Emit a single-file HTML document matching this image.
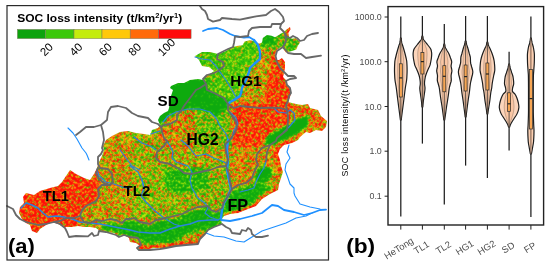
<!DOCTYPE html><html><head><meta charset="utf-8"><title>SOC loss intensity</title>
<style>html,body{margin:0;padding:0;background:#fff}svg{display:block}text{font-family:"Liberation Sans",Arial,sans-serif}</style></head><body>
<svg width="550" height="265" viewBox="0 0 550 265">
<defs>
<clipPath id="mapclip"><polygon points="290,27 290.5,29.5 288.3,33 289,36.5 292,38.7 295.5,38 297.7,40 300,42.4 297.7,46 296.3,49.6 292,51 286,52.5 282.5,48 280,47.5 276.6,50.4 275,55.5 276,60 279,60 282,58 285,62 285,68 284,73 283,77 286,80 287,85 290,89 291,93 290,97 288,102 296,104 302,105 308,104 310,108 318,110 321,116 327,121 326,127 322,131 316,130 310,133 306,132 300,137 298,140 292,143 284,145 280,149 278,154 280,160 281,166 283,172 281,178 279,184 278,190 270,194 262,199 256,206 248,209 238,213 230,214 224,216 221,220 222,224 214,227 208,230 205,234 200,239 198,244 186,245 176,246 166,248 154,248 144,250 138,249 140,246 136,243 130,242 129,238 124,235 118,236 114,233 106,232 100,231 96,228 90,227 84,227 78,226 72,227 64,227 58,224 52,222 46,225 40,229 37,233 32,231 30,225 26,223 22,219 19,213 20,207 24,203 23,197 26,193 34,195 40,191 50,188 58,186 62,182 66,176 70,170 76,174 84,178 90,180 94,174 97,168 99,162 102,156 104,150 103,146 106,140 112,136 120,132 128,131 136,133 144,134 150,135 152,130 158,128 160,125 158,120 160,116 164,113 168,111 169,108 170,102 171,96 173,90 170,88 171,86 178,83 184,83 190,80 198,79 203,80 205,76 210,74 214,71 209,67 202,66 199,60 195,56 202,52 210,52 218,54 226,51 230.8,47.5 236.6,46 242.5,45.3 244.6,41.6 249.7,40.2 254,41 259,43.8 262,42.4 262.8,38 267,35 271.5,35.8 275,37.3 278.8,35 281,33.6 284,32 286,30"/></clipPath>
<filter id="tex" x="0" y="0" width="550" height="265" filterUnits="userSpaceOnUse" color-interpolation-filters="sRGB">
<feGaussianBlur in="SourceGraphic" stdDeviation="1.7" result="src"/>
<feColorMatrix in="src" type="matrix" values="1 0 0 0 0  1 0 0 0 0  1 0 0 0 0  0 0 0 0 1" result="bias"/>
<feColorMatrix in="src" type="matrix" values="0 1 0 0 0  0 1 0 0 0  0 1 0 0 0  0 0 0 0 1" result="amp"/>
<feTurbulence type="fractalNoise" baseFrequency="0.46" numOctaves="2" seed="7" result="n0"/>
<feColorMatrix in="n0" type="matrix" values="2.5 0 0 0 -0.75  2.5 0 0 0 -0.75  2.5 0 0 0 -0.75  0 0 0 0 1" result="n1"/>
<feComposite in="amp" in2="n1" operator="arithmetic" k1="1" k2="-0.5" k3="0" k4="0.5" result="m"/>
<feComposite in="bias" in2="m" operator="arithmetic" k1="0" k2="1.5" k3="1" k4="-0.8" result="v"/>
<feComponentTransfer in="v"><feFuncR type="discrete" tableValues="0.055 0.055 0.055 0.055 0.055 0.055 0.055 0.055 0.055 0.235 0.235 0.235 0.235 0.235 0.235 0.235 0.235 0.235 0.235 0.769 0.769 0.769 0.769 0.769 1.000 1.000 1.000 1.000 1.000 1.000 1.000 1.000 1.000 1.000 1.000 1.000 1.000 1.000 1.000 1.000 1.000 1.000 1.000 1.000 1.000 1.000 1.000 1.000"/><feFuncG type="discrete" tableValues="0.667 0.667 0.667 0.667 0.667 0.667 0.667 0.667 0.667 0.784 0.784 0.784 0.784 0.784 0.784 0.784 0.784 0.784 0.784 0.925 0.925 0.925 0.925 0.925 0.784 0.784 0.416 0.416 0.416 0.416 0.416 0.416 0.416 0.416 0.416 0.039 0.039 0.039 0.039 0.039 0.039 0.039 0.039 0.039 0.039 0.039 0.039 0.039"/><feFuncB type="discrete" tableValues="0.055 0.055 0.055 0.055 0.055 0.055 0.055 0.055 0.055 0.039 0.039 0.039 0.039 0.039 0.039 0.039 0.039 0.039 0.039 0.047 0.047 0.047 0.047 0.047 0.039 0.039 0.039 0.039 0.039 0.039 0.039 0.039 0.039 0.039 0.039 0.039 0.039 0.039 0.039 0.039 0.039 0.039 0.039 0.039 0.039 0.039 0.039 0.039"/><feFuncA type="linear" slope="0" intercept="1"/></feComponentTransfer>
<feConvolveMatrix order="3" kernelMatrix="1 2 1 2 9 2 1 2 1" divisor="21" edgeMode="duplicate" preserveAlpha="true"/>
</filter>
</defs>
<rect width="550" height="265" fill="#fff"/>
<g clip-path="url(#mapclip)"><g filter="url(#tex)">
<rect x="0" y="0" width="550" height="265" fill="rgb(136,191,0)"/>
<polygon points="15,185 60,178 72,165 98,160 98,168 97,175 98,189 99,196 96,201 86,206 82,210 80,216 76,240 15,240" fill="rgb(179,191,0)"/>
<polygon points="100,128 130,128 132,215 95,225 80,216 86,206 96,201 99,196 98,189 102,185 113,182 112,174 100,168" fill="rgb(139,191,0)"/>
<polygon points="130,128 165,128 170,165 150,215 132,215" fill="rgb(126,191,0)"/>
<polygon points="160,122 230,104 232,168 165,168 158,135" fill="rgb(129,191,0)"/>
<polygon points="160,122 176,112 195,110 195,150 165,150 158,135" fill="rgb(143,191,0)"/>
<polygon points="195,108 230,104 232,145 195,150" fill="rgb(107,191,0)"/>
<polygon points="152,165 228,165 230,190 222,208 198,207 166,218 134,218 136,195" fill="rgb(119,191,0)"/>
<polygon points="166,170 205,168 212,188 178,194 164,186" fill="rgb(71,191,0)"/>
<polygon points="232,146 290,146 284,200 232,200" fill="rgb(145,191,0)"/>
<polygon points="232,104 290,100 292,146 232,146" fill="rgb(177,191,0)"/>
<polygon points="258,44 300,40 292,100 232,104 241,93 246,80 250,68 260,59" fill="rgb(136,191,0)"/>
<polygon points="274,52 290,50 294,100 264,102 267,80" fill="rgb(177,191,0)"/>
<polygon points="260,30 300,30 300,52 276,50 260,48" fill="rgb(102,191,0)"/>
<polygon points="262,34 275,34 275,45 262,45" fill="rgb(59,128,0)"/>
<polygon points="288,38 300,40 297,52 288,52" fill="rgb(85,191,0)"/>
<polygon points="286,26 292,26 292,35 286,35" fill="rgb(187,191,0)"/>
<polygon points="292,102 328,108 328,134 300,140 290,146" fill="rgb(156,191,0)"/>
<polygon points="296,140 284,143 277,149 275,155 277,162 279,168 286,170 286,150 298,146" fill="rgb(184,191,0)"/>
<polygon points="100,228 110,223 122,225 126,221 134,220 140,224 150,226 156,222 166,220 174,218 182,216 190,212 198,209 208,208 211,212 216,214 222,210 224,204 228,198 232,192 238,188 246,186 254,184 262,184 270,186 277,190 270,195 262,200 256,206 248,209 238,213 230,214 224,216 221,220 222,224 214,227 206,230 198,231 190,233 183,237 177,241 166,243 154,243 146,244 142,241 138,238 130,237 120,233 108,231" fill="rgb(51,191,0)"/>
<polygon points="258,168 268,166 273,172 270,180 260,184 254,180" fill="rgb(34,191,0)"/>
<polygon points="306,116 296,120 288,125 278,130 267,137 265,144 270,146 282,141 294,135 304,128 309,121" fill="rgb(0,191,0)"/>
<polygon points="279,190 270,195 262,200 256,207 248,210 238,214 230,215 224,217 223,213.5 229.5,211.5 237.5,210.5 247,206.5 254,203.5 260,196.5 268,191.5 277,187" fill="rgb(195,191,0)"/>
<polygon points="200,239 198,244 186,245 176,246 166,248 154,248 144,250 138,249 140,246 136,243 130,242 129,238 133,238 139,242 144,246.5 154,245 166,245 176,243.5 186,242 196,241 198,237" fill="rgb(187,191,0)"/>
<polygon points="183,237 190,233 198,231 206,230 200,239 196,241 186,242 178,242" fill="rgb(136,191,0)"/>
<polygon points="171,86 178,83 184,83 190,80 198,79 203,80 206,84 207,90 214,93 224,98 228,104 224,110 216,116 210,112 200,109 188,109 176,112 168,116 163,122 158,126 150,130 150,110 160,90" fill="rgb(0,191,0)"/>
<polygon points="196,90 207,90 214,93 224,98 228,104 224,110 216,116 210,112 200,109 188,109 184,106 190,98" fill="rgb(34,178,0)"/>
<polygon points="190,48 236,44 240,60 224,68 214,73 200,66" fill="rgb(102,128,0)"/>
<polygon points="214,71 224,66 223,62 217,59 218,54 226,51 236,46 250,40 258,45 260,59 250,68 246,80 241,93 234,100 228,104 224,98 214,93 207,90 206,84 203,79 207,75" fill="rgb(102,128,0)"/>
</g></g>
<g fill="none" stroke-linejoin="round" stroke-linecap="round">
<polyline points="21,208 26,203 32,205 38,208 43,213 48,217 56,216 64,217 72,219 80,222 90,223 100,224 110,226 120,228 130,230 138,232 150,233 160,233 170,229 180,226 190,224 198,221 210,220 218,220 221,218" stroke="#2b84dc" stroke-width="1.5"/>
<polyline points="130,166 138,172 142,180 144,188 141,196 146,202 154,210 164,218 174,224 180,226" stroke="#2b84dc" stroke-width="1.2"/>
<polyline points="193,190 198,198 206,204 208,208 205,213 210,217 218,220" stroke="#2b84dc" stroke-width="1.2"/>
<polyline points="166,140 170,146 173,152 172,158 176,162 188,166 192,172 190,180 192,188 193,190" stroke="#2b84dc" stroke-width="1.2"/>
<polyline points="181,140 188,146 196,156 206,154 214,158 224,162 228,164" stroke="#2b84dc" stroke-width="1.2"/>
<polyline points="134,137 142,143 150,146 156,150" stroke="#2b84dc" stroke-width="1.2"/>
<polyline points="163,122 168,116 176,112 188,109 200,109 210,112 216,118 220,126 226,134 229,141" stroke="#2b84dc" stroke-width="1.2"/>
<polyline points="195,57 202,59 210,60 216,66 220,72 226,80 232,90 236,97" stroke="#2b84dc" stroke-width="1.2"/>
<polyline points="274,108 278,112 286,113 290,110 294,113 295,120 290,126 284,132" stroke="#2b84dc" stroke-width="1.2"/>
<polyline points="97,169 99,176 106,182 114,184 122,187 130,189" stroke="#2b84dc" stroke-width="1.2"/>
<polyline points="120,150 126,158 132,166 140,170" stroke="#2b84dc" stroke-width="1.2"/>
<polyline points="230,112 236,118 238,124 234,130 232,138 229,141" stroke="#2b84dc" stroke-width="1.2"/>
<polyline points="266,161 264,168 260,174 256,182 254,188 248,190 240,192" stroke="#2b84dc" stroke-width="1.2"/>
<polyline points="151,134 160,131" stroke="#2b84dc" stroke-width="1.2"/>
<polyline points="142,180 144,188" stroke="#2b84dc" stroke-width="1.2"/>
<polyline points="289,145 287,152 290,158 286,164 285,170 288,178 290,184 294,188 294,193 295,196 300,204 310,207 320,209" stroke="#1e90ff" stroke-width="1.1"/>
<polyline points="206,233 214,236 224,237 230,239 236,241 244,242 252,237 262,231 274,227 286,223 296,218 306,216 312,213" stroke="#1e90ff" stroke-width="1.1"/>
<polyline points="68,128 73,133 77,139 82,148 86,153 87,155 89,160" stroke="#1e90ff" stroke-width="1.1"/>
<polyline points="203,31 208,29 217,28 223,30 230,34 235,36 244,37.6 249,37 254,40" stroke="#1e90ff" stroke-width="1.8"/>
<polyline points="254,40 258,45 260,52 260,59 254,64 250,68 249,72 246,80 242,88 241,93 240,96 234,100 230,102 228,105" stroke="#1e90ff" stroke-width="2.3"/>
<polyline points="228,140 227,150 228,160 227,170 229,180 231,189 228,196 224,203 222,210 221,218" stroke="#1e90ff" stroke-width="2.4"/>
<polyline points="221,220 230,221 240,219 252,216 262,213 272,205 278,206 284,210 294,212 304,215 312,213 320,210 326,209.6" stroke="#1e90ff" stroke-width="1.8"/>
<polyline points="200,6 202,9 205,11 207,15 208,19 213,21.6 220,20 222,18 232,19 240,19.6 248,18 256,16.4 266,15 271,11 275,9 279,12 283,17 284,21 281,24 280,28 284,32 287,37 290,38 293,36 297,38 300,41 304,40 307,36 312,34 318,33" stroke="#686868" stroke-width="1.8"/>
<polyline points="281,24 272,24 271,27 260,27 252,28 249,31 248,36 240,37 235,36.4 234,43 233,47 228,49 222,52 218,54 217,59 223,62 224,66 218,71 214,73 207,75 203,79 206,84 200,88 196,90 190,98 184,106 181,111 177,115 177,120 170,124 164,125 161,127 162,132 164,138 167,141 164,146 157,152 156,158 160,162 170,164 178,168 184,173 192,174 200,172 210,170 218,167 226,166" stroke="#686868" stroke-width="1.8"/>
<polyline points="226,166 228,160 226,152 225,144 229,141 234,134 237,128 236,122 232,116 228,110 228,104" stroke="#686868" stroke-width="1.8"/>
<polyline points="206,84 207,90 214,93 224,98 228,104 234,108 240,106 250,107 260,108 270,107.6 280,108 287,110" stroke="#686868" stroke-width="1.8"/>
<polyline points="226,166 229,174 230,182 232,189 228,196 224,202 222,208 216,212 211,210 208,206 198,207 190,210 182,214 174,216 166,218 156,220 150,224 140,222 134,218 130,219 126,219 122,223 116,220 110,219 102,221 96,220 90,223 84,222 80,216" stroke="#686868" stroke-width="1.8"/>
<polyline points="101,125 103,132 104,140 102,148 103,150 101,154 98,157 98,164 100,168 108,169 112,174 113,182 110,185 102,185 98,189 99,196 96,201 86,206 82,210 80,216 74,218 66,218 60,221 54,222" stroke="#686868" stroke-width="1.8"/>
<polyline points="98,168 96,173 99,179 104,183 110,185" stroke="#686868" stroke-width="1.8"/>
<polyline points="161,127 158,124 152,122 148,118 138,116 132,113 126,108 118,106 111,107 108,112 107,120 101,125 94,127 86,127 80,132 76,135" stroke="#686868" stroke-width="1.8"/>
<polyline points="7,206 13,209 16,215 20,219 26,222 30,223 38,225 46,224 54,222 60,224 65,228 67,232 69,237 76,236 88,236.4 92,233 94,236 98,235 99,231 106,232 116,235 119,237 124,235 130,237 138,238 140,242 141,245 137,248 139,250 150,250 160,249 166,248 176,246 186,245 198,244 200,239 205,234 208,230 214,227 222,224 226,227 230,229 232,233 240,234 242,230 246,231 248,228 251,230 252,234 256,237 262,237 268,235.6" stroke="#686868" stroke-width="1.8"/>
<polyline points="283,47 277,51 275.6,56 277,62 280,68 284,72 288,76 294,76 296,78 290,79 286,81 287,85 290,88 291,93 289,96 288,101 286,105 287,110 288,116 288,122 287,130 282,134 277,138 276,141 270,145 262,148 257,154 256,160 258,165 254,172 252,178 246,183 238,185 232,189" stroke="#686868" stroke-width="1.8"/>
<polyline points="283,47 288,53 294,54 301,54 306,58 312,57 321,55.6" stroke="#686868" stroke-width="1.8"/>
<polyline points="285,34 286,41 283,47" stroke="#686868" stroke-width="1.8"/>
<polyline points="270,145 267,152 266,161" stroke="#686868" stroke-width="1.8"/>
</g>
<rect x="7" y="5.6" width="321.5" height="254.4" fill="none" stroke="#2a2a2a" stroke-width="1.2"/>
<text x="17.2" y="22.4" font-size="11.3" font-weight="bold" fill="#000" textLength="165" lengthAdjust="spacingAndGlyphs">SOC loss intensity (t/km<tspan font-size="7" dy="-4">2</tspan><tspan dy="4">/yr</tspan><tspan font-size="7" dy="-4">1</tspan><tspan dy="4">)</tspan></text>
<rect x="17.4" y="29.4" width="28.0" height="9.2" fill="#0da30d" stroke="#7a7a5a" stroke-width="0.5"/>
<rect x="45.4" y="29.4" width="28.6" height="9.2" fill="#3cc80a" stroke="#7a7a5a" stroke-width="0.5"/>
<rect x="74" y="29.4" width="28.0" height="9.2" fill="#c4ec0c" stroke="#7a7a5a" stroke-width="0.5"/>
<rect x="102" y="29.4" width="28.2" height="9.2" fill="#ffc80a" stroke="#7a7a5a" stroke-width="0.5"/>
<rect x="130.2" y="29.4" width="28.3" height="9.2" fill="#ff6a0a" stroke="#7a7a5a" stroke-width="0.5"/>
<rect x="158.5" y="29.4" width="32.6" height="9.2" fill="#ff0a0a" stroke="#7a7a5a" stroke-width="0.5"/>
<text transform="translate(41.9,53.9) rotate(-45)" font-size="11.5" fill="#000" dy="4.1">20</text>
<text transform="translate(71.3,53.9) rotate(-45)" font-size="11.5" fill="#000" dy="4.1">40</text>
<text transform="translate(100.7,53.9) rotate(-45)" font-size="11.5" fill="#000" dy="4.1">60</text>
<text transform="translate(130.1,53.9) rotate(-45)" font-size="11.5" fill="#000" dy="4.1">80</text>
<text transform="translate(159.5,53.9) rotate(-45)" font-size="11.5" fill="#000" dy="4.1">100</text>
<text x="230.2" y="86.2" font-size="15.2" font-weight="bold" fill="#000">HG1</text>
<text x="157.5" y="106" font-size="15.2" font-weight="bold" fill="#000">SD</text>
<text x="186.6" y="145.2" font-size="15.6" font-weight="bold" fill="#000">HG2</text>
<text x="42.8" y="201" font-size="14.8" font-weight="bold" fill="#000">TL1</text>
<text x="123.6" y="196" font-size="15" font-weight="bold" fill="#000">TL2</text>
<text x="227.4" y="210.5" font-size="16.2" font-weight="bold" fill="#000">FP</text>
<text x="8" y="253" font-size="21" font-weight="bold" fill="#000" textLength="26.8" lengthAdjust="spacingAndGlyphs">(a)</text>
<text x="346.2" y="253" font-size="21" font-weight="bold" fill="#000" textLength="29" lengthAdjust="spacingAndGlyphs">(b)</text>
<g>
<line x1="400.8" y1="16.4" x2="400.8" y2="216.4" stroke="#1e1e1e" stroke-width="1.25"/>
<path d="M400.40,38.0 L400.37,39.0 L400.28,40.0 L400.15,41.0 L400.00,42.0 L399.78,43.0 L399.48,44.0 L399.13,45.0 L398.80,46.0 L398.50,47.0 L398.19,48.0 L397.89,49.0 L397.60,50.0 L397.32,51.0 L397.03,52.0 L396.76,53.0 L396.49,54.0 L396.24,55.0 L396.00,56.0 L395.76,57.0 L395.51,58.0 L395.28,59.0 L395.07,60.0 L394.90,61.0 L394.80,62.0 L394.74,63.0 L394.68,64.0 L394.63,65.0 L394.58,66.0 L394.55,67.0 L394.52,68.0 L394.51,69.0 L394.50,70.0 L394.51,71.0 L394.52,72.0 L394.55,73.0 L394.59,74.0 L394.64,75.0 L394.69,76.0 L394.74,77.0 L394.80,78.0 L394.88,79.0 L394.99,80.0 L395.12,81.0 L395.28,82.0 L395.45,83.0 L395.63,84.0 L395.81,85.0 L395.99,86.0 L396.15,87.0 L396.30,88.0 L396.43,89.0 L396.57,90.0 L396.69,91.0 L396.82,92.0 L396.94,93.0 L397.06,94.0 L397.18,95.0 L397.31,96.0 L397.43,97.0 L397.55,98.0 L397.67,99.0 L397.80,100.0 L397.93,101.0 L398.06,102.0 L398.19,103.0 L398.32,104.0 L398.45,105.0 L398.58,106.0 L398.71,107.0 L398.84,108.0 L398.98,109.0 L399.11,110.0 L399.24,111.0 L399.37,112.0 L399.50,113.0 L399.63,114.0 L399.76,115.0 L399.89,116.0 L400.02,117.0 L400.14,118.0 L400.27,119.0 L400.40,120.0 L401.20,120.0 L401.33,119.0 L401.46,118.0 L401.58,117.0 L401.71,116.0 L401.84,115.0 L401.97,114.0 L402.10,113.0 L402.23,112.0 L402.36,111.0 L402.49,110.0 L402.62,109.0 L402.76,108.0 L402.89,107.0 L403.02,106.0 L403.15,105.0 L403.28,104.0 L403.41,103.0 L403.54,102.0 L403.67,101.0 L403.80,100.0 L403.93,99.0 L404.05,98.0 L404.17,97.0 L404.29,96.0 L404.42,95.0 L404.54,94.0 L404.66,93.0 L404.78,92.0 L404.91,91.0 L405.03,90.0 L405.17,89.0 L405.30,88.0 L405.45,87.0 L405.61,86.0 L405.79,85.0 L405.97,84.0 L406.15,83.0 L406.32,82.0 L406.48,81.0 L406.61,80.0 L406.72,79.0 L406.80,78.0 L406.86,77.0 L406.91,76.0 L406.96,75.0 L407.01,74.0 L407.05,73.0 L407.08,72.0 L407.09,71.0 L407.10,70.0 L407.09,69.0 L407.08,68.0 L407.05,67.0 L407.02,66.0 L406.97,65.0 L406.92,64.0 L406.86,63.0 L406.80,62.0 L406.70,61.0 L406.53,60.0 L406.32,59.0 L406.09,58.0 L405.84,57.0 L405.60,56.0 L405.36,55.0 L405.11,54.0 L404.84,53.0 L404.57,52.0 L404.28,51.0 L404.00,50.0 L403.71,49.0 L403.41,48.0 L403.10,47.0 L402.80,46.0 L402.47,45.0 L402.12,44.0 L401.82,43.0 L401.60,42.0 L401.45,41.0 L401.32,40.0 L401.23,39.0 L401.20,38.0Z" fill="#fcd5bb" stroke="#1e1e1e" stroke-width="1.2" stroke-linejoin="round"/>
<path d="M400.60,38.0 L400.58,39.0 L400.54,40.0 L400.47,41.0 L400.40,42.0 L400.29,43.0 L400.14,44.0 L399.96,45.0 L399.80,46.0 L399.65,47.0 L399.50,48.0 L399.35,49.0 L399.20,50.0 L399.06,51.0 L398.92,52.0 L398.78,53.0 L398.65,54.0 L398.52,55.0 L398.40,56.0 L398.28,57.0 L398.16,58.0 L398.04,59.0 L397.93,60.0 L397.85,61.0 L397.80,62.0 L397.77,63.0 L397.74,64.0 L397.71,65.0 L397.69,66.0 L397.67,67.0 L397.66,68.0 L397.65,69.0 L397.65,70.0 L397.65,71.0 L397.66,72.0 L397.68,73.0 L397.70,74.0 L397.72,75.0 L397.74,76.0 L397.77,77.0 L397.80,78.0 L397.84,79.0 L397.89,80.0 L397.96,81.0 L398.04,82.0 L398.13,83.0 L398.22,84.0 L398.31,85.0 L398.39,86.0 L398.48,87.0 L398.55,88.0 L398.62,89.0 L398.68,90.0 L398.75,91.0 L398.81,92.0 L398.87,93.0 L398.93,94.0 L398.99,95.0 L399.05,96.0 L399.11,97.0 L399.17,98.0 L399.24,99.0 L399.30,100.0 L399.36,101.0 L399.43,102.0 L399.49,103.0 L399.56,104.0 L399.62,105.0 L399.69,106.0 L399.76,107.0 L399.82,108.0 L399.89,109.0 L399.95,110.0 L400.02,111.0 L400.09,112.0 L400.15,113.0 L400.21,114.0 L400.28,115.0 L400.34,116.0 L400.41,117.0 L400.47,118.0 L400.54,119.0 L400.60,120.0 L401.00,120.0 L401.06,119.0 L401.13,118.0 L401.19,117.0 L401.26,116.0 L401.32,115.0 L401.39,114.0 L401.45,113.0 L401.51,112.0 L401.58,111.0 L401.65,110.0 L401.71,109.0 L401.78,108.0 L401.84,107.0 L401.91,106.0 L401.98,105.0 L402.04,104.0 L402.11,103.0 L402.17,102.0 L402.24,101.0 L402.30,100.0 L402.36,99.0 L402.43,98.0 L402.49,97.0 L402.55,96.0 L402.61,95.0 L402.67,94.0 L402.73,93.0 L402.79,92.0 L402.85,91.0 L402.92,90.0 L402.98,89.0 L403.05,88.0 L403.12,87.0 L403.21,86.0 L403.29,85.0 L403.38,84.0 L403.47,83.0 L403.56,82.0 L403.64,81.0 L403.71,80.0 L403.76,79.0 L403.80,78.0 L403.83,77.0 L403.86,76.0 L403.88,75.0 L403.90,74.0 L403.92,73.0 L403.94,72.0 L403.95,71.0 L403.95,70.0 L403.95,69.0 L403.94,68.0 L403.93,67.0 L403.91,66.0 L403.89,65.0 L403.86,64.0 L403.83,63.0 L403.80,62.0 L403.75,61.0 L403.67,60.0 L403.56,59.0 L403.44,58.0 L403.32,57.0 L403.20,56.0 L403.08,55.0 L402.95,54.0 L402.82,53.0 L402.68,52.0 L402.54,51.0 L402.40,50.0 L402.25,49.0 L402.10,48.0 L401.95,47.0 L401.80,46.0 L401.64,45.0 L401.46,44.0 L401.31,43.0 L401.20,42.0 L401.13,41.0 L401.06,40.0 L401.02,39.0 L401.00,38.0Z" fill="#fac6a4" stroke="#5a4a40" stroke-width="0.4" stroke-opacity="0.8" stroke-linejoin="round"/>
<line x1="400.8" y1="38.0" x2="400.8" y2="120.0" stroke="#222" stroke-width="0.7"/>
<rect x="399.3" y="63.8" width="3" height="33.2" fill="#f7a654" stroke="#2a2a2a" stroke-width="0.7"/>
<line x1="399.3" y1="77.9" x2="402.3" y2="77.9" stroke="#222" stroke-width="1.2"/>
<line x1="422.4" y1="16" x2="422.4" y2="143.6" stroke="#1e1e1e" stroke-width="1.25"/>
<path d="M422.00,36.0 L421.93,37.0 L421.75,38.0 L421.50,39.0 L421.00,40.0 L420.22,41.0 L419.40,42.0 L418.61,43.0 L417.78,44.0 L417.00,45.0 L416.23,46.0 L415.43,47.0 L414.68,48.0 L414.08,49.0 L413.70,50.0 L413.47,51.0 L413.28,52.0 L413.15,53.0 L413.10,54.0 L413.13,55.0 L413.20,56.0 L413.29,57.0 L413.40,58.0 L413.53,59.0 L413.71,60.0 L413.90,61.0 L414.10,62.0 L414.29,63.0 L414.50,64.0 L414.78,65.0 L415.16,66.0 L415.60,67.0 L416.08,68.0 L416.56,69.0 L417.00,70.0 L417.42,71.0 L417.84,72.0 L418.24,73.0 L418.60,74.0 L418.94,75.0 L419.26,76.0 L419.50,77.0 L419.68,78.0 L419.85,79.0 L420.01,80.0 L420.14,81.0 L420.24,82.0 L420.29,83.0 L420.29,84.0 L420.18,85.0 L420.02,86.0 L419.87,87.0 L419.80,88.0 L419.83,89.0 L419.91,90.0 L420.02,91.0 L420.16,92.0 L420.31,93.0 L420.46,94.0 L420.60,95.0 L420.73,96.0 L420.88,97.0 L421.02,98.0 L421.17,99.0 L421.30,100.0 L421.42,101.0 L421.53,102.0 L421.64,103.0 L421.74,104.0 L421.83,105.0 L421.92,106.0 L422.00,107.0 L422.80,107.0 L422.88,106.0 L422.97,105.0 L423.06,104.0 L423.16,103.0 L423.27,102.0 L423.38,101.0 L423.50,100.0 L423.63,99.0 L423.78,98.0 L423.92,97.0 L424.07,96.0 L424.20,95.0 L424.34,94.0 L424.49,93.0 L424.64,92.0 L424.78,91.0 L424.89,90.0 L424.97,89.0 L425.00,88.0 L424.93,87.0 L424.78,86.0 L424.62,85.0 L424.51,84.0 L424.51,83.0 L424.56,82.0 L424.66,81.0 L424.79,80.0 L424.95,79.0 L425.12,78.0 L425.30,77.0 L425.54,76.0 L425.86,75.0 L426.20,74.0 L426.56,73.0 L426.96,72.0 L427.38,71.0 L427.80,70.0 L428.24,69.0 L428.72,68.0 L429.20,67.0 L429.64,66.0 L430.02,65.0 L430.30,64.0 L430.51,63.0 L430.70,62.0 L430.90,61.0 L431.09,60.0 L431.27,59.0 L431.40,58.0 L431.51,57.0 L431.60,56.0 L431.67,55.0 L431.70,54.0 L431.65,53.0 L431.52,52.0 L431.33,51.0 L431.10,50.0 L430.72,49.0 L430.12,48.0 L429.37,47.0 L428.57,46.0 L427.80,45.0 L427.02,44.0 L426.19,43.0 L425.40,42.0 L424.58,41.0 L423.80,40.0 L423.30,39.0 L423.05,38.0 L422.87,37.0 L422.80,36.0Z" fill="#fcd5bb" stroke="#1e1e1e" stroke-width="1.2" stroke-linejoin="round"/>
<path d="M422.20,36.0 L422.17,37.0 L422.07,38.0 L421.95,39.0 L421.70,40.0 L421.31,41.0 L420.90,42.0 L420.50,43.0 L420.09,44.0 L419.70,45.0 L419.31,46.0 L418.91,47.0 L418.54,48.0 L418.24,49.0 L418.05,50.0 L417.94,51.0 L417.84,52.0 L417.77,53.0 L417.75,54.0 L417.76,55.0 L417.80,56.0 L417.85,57.0 L417.90,58.0 L417.97,59.0 L418.05,60.0 L418.15,61.0 L418.25,62.0 L418.34,63.0 L418.45,64.0 L418.59,65.0 L418.78,66.0 L419.00,67.0 L419.24,68.0 L419.48,69.0 L419.70,70.0 L419.91,71.0 L420.12,72.0 L420.32,73.0 L420.50,74.0 L420.67,75.0 L420.83,76.0 L420.95,77.0 L421.04,78.0 L421.13,79.0 L421.20,80.0 L421.27,81.0 L421.32,82.0 L421.35,83.0 L421.34,84.0 L421.29,85.0 L421.21,86.0 L421.13,87.0 L421.10,88.0 L421.11,89.0 L421.15,90.0 L421.21,91.0 L421.28,92.0 L421.36,93.0 L421.43,94.0 L421.50,95.0 L421.57,96.0 L421.64,97.0 L421.71,98.0 L421.78,99.0 L421.85,100.0 L421.91,101.0 L421.97,102.0 L422.02,103.0 L422.07,104.0 L422.12,105.0 L422.16,106.0 L422.20,107.0 L422.60,107.0 L422.64,106.0 L422.68,105.0 L422.73,104.0 L422.78,103.0 L422.83,102.0 L422.89,101.0 L422.95,100.0 L423.02,99.0 L423.09,98.0 L423.16,97.0 L423.23,96.0 L423.30,95.0 L423.37,94.0 L423.44,93.0 L423.52,92.0 L423.59,91.0 L423.65,90.0 L423.69,89.0 L423.70,88.0 L423.67,87.0 L423.59,86.0 L423.51,85.0 L423.46,84.0 L423.45,83.0 L423.48,82.0 L423.53,81.0 L423.60,80.0 L423.67,79.0 L423.76,78.0 L423.85,77.0 L423.97,76.0 L424.13,75.0 L424.30,74.0 L424.48,73.0 L424.68,72.0 L424.89,71.0 L425.10,70.0 L425.32,69.0 L425.56,68.0 L425.80,67.0 L426.02,66.0 L426.21,65.0 L426.35,64.0 L426.46,63.0 L426.55,62.0 L426.65,61.0 L426.75,60.0 L426.83,59.0 L426.90,58.0 L426.95,57.0 L427.00,56.0 L427.04,55.0 L427.05,54.0 L427.03,53.0 L426.96,52.0 L426.86,51.0 L426.75,50.0 L426.56,49.0 L426.26,48.0 L425.89,47.0 L425.49,46.0 L425.10,45.0 L424.71,44.0 L424.30,43.0 L423.90,42.0 L423.49,41.0 L423.10,40.0 L422.85,39.0 L422.73,38.0 L422.63,37.0 L422.60,36.0Z" fill="#fac6a4" stroke="#5a4a40" stroke-width="0.4" stroke-opacity="0.8" stroke-linejoin="round"/>
<line x1="422.4" y1="36.0" x2="422.4" y2="107.0" stroke="#222" stroke-width="0.7"/>
<rect x="420.9" y="52.4" width="3" height="21.6" fill="#f7a654" stroke="#2a2a2a" stroke-width="0.7"/>
<line x1="420.9" y1="61.6" x2="423.9" y2="61.6" stroke="#222" stroke-width="1.2"/>
<line x1="444.3" y1="24" x2="444.3" y2="204.4" stroke="#1e1e1e" stroke-width="1.25"/>
<path d="M443.90,44.0 L443.83,45.0 L443.64,46.0 L443.40,47.0 L443.02,48.0 L442.47,49.0 L441.90,50.0 L441.32,51.0 L440.69,52.0 L440.11,53.0 L439.62,54.0 L439.19,55.0 L438.80,56.0 L438.44,57.0 L438.10,58.0 L437.72,59.0 L437.33,60.0 L437.02,61.0 L436.90,62.0 L436.99,63.0 L437.20,64.0 L437.41,65.0 L437.50,66.0 L437.41,67.0 L437.20,68.0 L436.95,69.0 L436.76,70.0 L436.70,71.0 L436.81,72.0 L437.01,73.0 L437.24,74.0 L437.42,75.0 L437.50,76.0 L437.47,77.0 L437.40,78.0 L437.33,79.0 L437.30,80.0 L437.41,81.0 L437.68,82.0 L438.00,83.0 L438.30,84.0 L438.56,85.0 L438.84,86.0 L439.09,87.0 L439.30,88.0 L439.46,89.0 L439.60,90.0 L439.73,91.0 L439.85,92.0 L439.97,93.0 L440.10,94.0 L440.24,95.0 L440.38,96.0 L440.53,97.0 L440.68,98.0 L440.83,99.0 L440.98,100.0 L441.13,101.0 L441.29,102.0 L441.45,103.0 L441.62,104.0 L441.79,105.0 L441.95,106.0 L442.10,107.0 L442.24,108.0 L442.38,109.0 L442.52,110.0 L442.65,111.0 L442.78,112.0 L442.92,113.0 L443.06,114.0 L443.19,115.0 L443.33,116.0 L443.47,117.0 L443.62,118.0 L443.76,119.0 L443.90,120.0 L444.70,120.0 L444.84,119.0 L444.98,118.0 L445.13,117.0 L445.27,116.0 L445.41,115.0 L445.54,114.0 L445.68,113.0 L445.82,112.0 L445.95,111.0 L446.08,110.0 L446.22,109.0 L446.36,108.0 L446.50,107.0 L446.65,106.0 L446.81,105.0 L446.98,104.0 L447.15,103.0 L447.31,102.0 L447.47,101.0 L447.62,100.0 L447.77,99.0 L447.92,98.0 L448.07,97.0 L448.22,96.0 L448.36,95.0 L448.50,94.0 L448.63,93.0 L448.75,92.0 L448.87,91.0 L449.00,90.0 L449.14,89.0 L449.30,88.0 L449.51,87.0 L449.76,86.0 L450.04,85.0 L450.30,84.0 L450.60,83.0 L450.93,82.0 L451.19,81.0 L451.30,80.0 L451.27,79.0 L451.20,78.0 L451.13,77.0 L451.10,76.0 L451.18,75.0 L451.36,74.0 L451.59,73.0 L451.79,72.0 L451.90,71.0 L451.84,70.0 L451.65,69.0 L451.40,68.0 L451.19,67.0 L451.10,66.0 L451.19,65.0 L451.40,64.0 L451.61,63.0 L451.70,62.0 L451.58,61.0 L451.27,60.0 L450.88,59.0 L450.50,58.0 L450.16,57.0 L449.80,56.0 L449.41,55.0 L448.98,54.0 L448.49,53.0 L447.91,52.0 L447.28,51.0 L446.70,50.0 L446.13,49.0 L445.58,48.0 L445.20,47.0 L444.96,46.0 L444.77,45.0 L444.70,44.0Z" fill="#fcd5bb" stroke="#1e1e1e" stroke-width="1.2" stroke-linejoin="round"/>
<path d="M444.10,44.0 L444.06,45.0 L443.97,46.0 L443.85,47.0 L443.66,48.0 L443.39,49.0 L443.10,50.0 L442.81,51.0 L442.50,52.0 L442.20,53.0 L441.96,54.0 L441.75,55.0 L441.55,56.0 L441.37,57.0 L441.20,58.0 L441.01,59.0 L440.82,60.0 L440.66,61.0 L440.60,62.0 L440.65,63.0 L440.75,64.0 L440.85,65.0 L440.90,66.0 L440.86,67.0 L440.75,68.0 L440.63,69.0 L440.53,70.0 L440.50,71.0 L440.55,72.0 L440.65,73.0 L440.77,74.0 L440.86,75.0 L440.90,76.0 L440.88,77.0 L440.85,78.0 L440.82,79.0 L440.80,80.0 L440.85,81.0 L440.99,82.0 L441.15,83.0 L441.30,84.0 L441.43,85.0 L441.57,86.0 L441.70,87.0 L441.80,88.0 L441.88,89.0 L441.95,90.0 L442.01,91.0 L442.07,92.0 L442.13,93.0 L442.20,94.0 L442.27,95.0 L442.34,96.0 L442.41,97.0 L442.49,98.0 L442.56,99.0 L442.64,100.0 L442.72,101.0 L442.80,102.0 L442.88,103.0 L442.96,104.0 L443.04,105.0 L443.12,106.0 L443.20,107.0 L443.27,108.0 L443.34,109.0 L443.41,110.0 L443.48,111.0 L443.54,112.0 L443.61,113.0 L443.68,114.0 L443.75,115.0 L443.82,116.0 L443.89,117.0 L443.96,118.0 L444.03,119.0 L444.10,120.0 L444.50,120.0 L444.57,119.0 L444.64,118.0 L444.71,117.0 L444.78,116.0 L444.85,115.0 L444.92,114.0 L444.99,113.0 L445.06,112.0 L445.12,111.0 L445.19,110.0 L445.26,109.0 L445.33,108.0 L445.40,107.0 L445.48,106.0 L445.56,105.0 L445.64,104.0 L445.72,103.0 L445.80,102.0 L445.88,101.0 L445.96,100.0 L446.04,99.0 L446.11,98.0 L446.19,97.0 L446.26,96.0 L446.33,95.0 L446.40,94.0 L446.47,93.0 L446.53,92.0 L446.59,91.0 L446.65,90.0 L446.72,89.0 L446.80,88.0 L446.90,87.0 L447.03,86.0 L447.17,85.0 L447.30,84.0 L447.45,83.0 L447.61,82.0 L447.75,81.0 L447.80,80.0 L447.78,79.0 L447.75,78.0 L447.72,77.0 L447.70,76.0 L447.74,75.0 L447.83,74.0 L447.95,73.0 L448.05,72.0 L448.10,71.0 L448.07,70.0 L447.97,69.0 L447.85,68.0 L447.74,67.0 L447.70,66.0 L447.75,65.0 L447.85,64.0 L447.95,63.0 L448.00,62.0 L447.94,61.0 L447.78,60.0 L447.59,59.0 L447.40,58.0 L447.23,57.0 L447.05,56.0 L446.85,55.0 L446.64,54.0 L446.40,53.0 L446.10,52.0 L445.79,51.0 L445.50,50.0 L445.21,49.0 L444.94,48.0 L444.75,47.0 L444.63,46.0 L444.54,45.0 L444.50,44.0Z" fill="#fac6a4" stroke="#5a4a40" stroke-width="0.4" stroke-opacity="0.8" stroke-linejoin="round"/>
<line x1="444.3" y1="44.0" x2="444.3" y2="120.0" stroke="#222" stroke-width="0.7"/>
<rect x="442.8" y="65.7" width="3" height="26.1" fill="#f7a654" stroke="#2a2a2a" stroke-width="0.7"/>
<line x1="442.8" y1="76.3" x2="445.8" y2="76.3" stroke="#222" stroke-width="1.2"/>
<line x1="465.6" y1="16" x2="465.6" y2="165.6" stroke="#1e1e1e" stroke-width="1.25"/>
<path d="M465.20,41.0 L465.07,42.0 L464.90,43.0 L464.70,44.0 L464.43,45.0 L464.09,46.0 L463.73,47.0 L463.40,48.0 L463.11,49.0 L462.84,50.0 L462.57,51.0 L462.31,52.0 L462.05,53.0 L461.79,54.0 L461.48,55.0 L461.17,56.0 L460.93,57.0 L460.80,58.0 L460.77,59.0 L460.75,60.0 L460.73,61.0 L460.70,62.0 L460.58,63.0 L460.34,64.0 L460.06,65.0 L459.80,66.0 L459.54,67.0 L459.23,68.0 L458.93,69.0 L458.66,70.0 L458.47,71.0 L458.40,72.0 L458.46,73.0 L458.62,74.0 L458.84,75.0 L459.10,76.0 L459.37,77.0 L459.60,78.0 L459.82,79.0 L460.05,80.0 L460.28,81.0 L460.50,82.0 L460.70,83.0 L460.86,84.0 L461.00,85.0 L461.12,86.0 L461.24,87.0 L461.35,88.0 L461.45,89.0 L461.56,90.0 L461.67,91.0 L461.80,92.0 L461.94,93.0 L462.08,94.0 L462.24,95.0 L462.39,96.0 L462.55,97.0 L462.70,98.0 L462.85,99.0 L463.00,100.0 L463.14,101.0 L463.28,102.0 L463.41,103.0 L463.55,104.0 L463.68,105.0 L463.81,106.0 L463.94,107.0 L464.07,108.0 L464.20,109.0 L464.33,110.0 L464.46,111.0 L464.58,112.0 L464.71,113.0 L464.83,114.0 L464.96,115.0 L465.08,116.0 L465.20,117.0 L466.00,117.0 L466.12,116.0 L466.24,115.0 L466.37,114.0 L466.49,113.0 L466.62,112.0 L466.74,111.0 L466.87,110.0 L467.00,109.0 L467.13,108.0 L467.26,107.0 L467.39,106.0 L467.52,105.0 L467.65,104.0 L467.79,103.0 L467.92,102.0 L468.06,101.0 L468.20,100.0 L468.35,99.0 L468.50,98.0 L468.65,97.0 L468.81,96.0 L468.96,95.0 L469.12,94.0 L469.26,93.0 L469.40,92.0 L469.53,91.0 L469.64,90.0 L469.75,89.0 L469.85,88.0 L469.96,87.0 L470.08,86.0 L470.20,85.0 L470.34,84.0 L470.50,83.0 L470.70,82.0 L470.92,81.0 L471.15,80.0 L471.38,79.0 L471.60,78.0 L471.83,77.0 L472.10,76.0 L472.36,75.0 L472.58,74.0 L472.74,73.0 L472.80,72.0 L472.73,71.0 L472.54,70.0 L472.27,69.0 L471.97,68.0 L471.66,67.0 L471.40,66.0 L471.14,65.0 L470.86,64.0 L470.62,63.0 L470.50,62.0 L470.47,61.0 L470.45,60.0 L470.43,59.0 L470.40,58.0 L470.27,57.0 L470.03,56.0 L469.72,55.0 L469.41,54.0 L469.15,53.0 L468.89,52.0 L468.63,51.0 L468.36,50.0 L468.09,49.0 L467.80,48.0 L467.47,47.0 L467.11,46.0 L466.77,45.0 L466.50,44.0 L466.30,43.0 L466.13,42.0 L466.00,41.0Z" fill="#fcd5bb" stroke="#1e1e1e" stroke-width="1.2" stroke-linejoin="round"/>
<path d="M465.40,41.0 L465.34,42.0 L465.25,43.0 L465.15,44.0 L465.02,45.0 L464.84,46.0 L464.66,47.0 L464.50,48.0 L464.36,49.0 L464.22,50.0 L464.09,51.0 L463.96,52.0 L463.83,53.0 L463.70,54.0 L463.54,55.0 L463.39,56.0 L463.26,57.0 L463.20,58.0 L463.18,59.0 L463.18,60.0 L463.17,61.0 L463.15,62.0 L463.09,63.0 L462.97,64.0 L462.83,65.0 L462.70,66.0 L462.57,67.0 L462.42,68.0 L462.26,69.0 L462.13,70.0 L462.04,71.0 L462.00,72.0 L462.03,73.0 L462.11,74.0 L462.22,75.0 L462.35,76.0 L462.48,77.0 L462.60,78.0 L462.71,79.0 L462.82,80.0 L462.94,81.0 L463.05,82.0 L463.15,83.0 L463.23,84.0 L463.30,85.0 L463.36,86.0 L463.42,87.0 L463.47,88.0 L463.53,89.0 L463.58,90.0 L463.64,91.0 L463.70,92.0 L463.77,93.0 L463.84,94.0 L463.92,95.0 L464.00,96.0 L464.07,97.0 L464.15,98.0 L464.23,99.0 L464.30,100.0 L464.37,101.0 L464.44,102.0 L464.51,103.0 L464.57,104.0 L464.64,105.0 L464.71,106.0 L464.77,107.0 L464.84,108.0 L464.90,109.0 L464.96,110.0 L465.03,111.0 L465.09,112.0 L465.15,113.0 L465.22,114.0 L465.28,115.0 L465.34,116.0 L465.40,117.0 L465.80,117.0 L465.86,116.0 L465.92,115.0 L465.98,114.0 L466.05,113.0 L466.11,112.0 L466.17,111.0 L466.24,110.0 L466.30,109.0 L466.36,108.0 L466.43,107.0 L466.49,106.0 L466.56,105.0 L466.63,104.0 L466.69,103.0 L466.76,102.0 L466.83,101.0 L466.90,100.0 L466.97,99.0 L467.05,98.0 L467.13,97.0 L467.20,96.0 L467.28,95.0 L467.36,94.0 L467.43,93.0 L467.50,92.0 L467.56,91.0 L467.62,90.0 L467.67,89.0 L467.73,88.0 L467.78,87.0 L467.84,86.0 L467.90,85.0 L467.97,84.0 L468.05,83.0 L468.15,82.0 L468.26,81.0 L468.38,80.0 L468.49,79.0 L468.60,78.0 L468.72,77.0 L468.85,76.0 L468.98,75.0 L469.09,74.0 L469.17,73.0 L469.20,72.0 L469.16,71.0 L469.07,70.0 L468.94,69.0 L468.78,68.0 L468.63,67.0 L468.50,66.0 L468.37,65.0 L468.23,64.0 L468.11,63.0 L468.05,62.0 L468.03,61.0 L468.02,60.0 L468.02,59.0 L468.00,58.0 L467.94,57.0 L467.81,56.0 L467.66,55.0 L467.50,54.0 L467.37,53.0 L467.24,52.0 L467.11,51.0 L466.98,50.0 L466.84,49.0 L466.70,48.0 L466.54,47.0 L466.36,46.0 L466.18,45.0 L466.05,44.0 L465.95,43.0 L465.86,42.0 L465.80,41.0Z" fill="#fac6a4" stroke="#5a4a40" stroke-width="0.4" stroke-opacity="0.8" stroke-linejoin="round"/>
<line x1="465.6" y1="41.0" x2="465.6" y2="117.0" stroke="#222" stroke-width="0.7"/>
<rect x="464.1" y="65" width="3" height="26.0" fill="#f7a654" stroke="#2a2a2a" stroke-width="0.7"/>
<line x1="464.1" y1="76.6" x2="467.1" y2="76.6" stroke="#222" stroke-width="1.2"/>
<line x1="487.4" y1="16" x2="487.4" y2="178" stroke="#1e1e1e" stroke-width="1.25"/>
<path d="M487.00,42.0 L486.86,43.0 L486.66,44.0 L486.40,45.0 L486.05,46.0 L485.58,47.0 L485.07,48.0 L484.60,49.0 L484.17,50.0 L483.74,51.0 L483.32,52.0 L482.92,53.0 L482.56,54.0 L482.21,55.0 L481.87,56.0 L481.57,57.0 L481.30,58.0 L481.06,59.0 L480.83,60.0 L480.64,61.0 L480.50,62.0 L480.40,63.0 L480.30,64.0 L480.21,65.0 L480.13,66.0 L480.07,67.0 L480.03,68.0 L480.00,69.0 L480.01,70.0 L480.11,71.0 L480.29,72.0 L480.51,73.0 L480.75,74.0 L480.99,75.0 L481.20,76.0 L481.39,77.0 L481.59,78.0 L481.79,79.0 L481.98,80.0 L482.17,81.0 L482.35,82.0 L482.51,83.0 L482.65,84.0 L482.77,85.0 L482.87,86.0 L482.97,87.0 L483.10,88.0 L483.28,89.0 L483.49,90.0 L483.71,91.0 L483.90,92.0 L484.05,93.0 L484.18,94.0 L484.31,95.0 L484.42,96.0 L484.54,97.0 L484.65,98.0 L484.77,99.0 L484.89,100.0 L485.03,101.0 L485.18,102.0 L485.34,103.0 L485.51,104.0 L485.68,105.0 L485.84,106.0 L486.00,107.0 L486.15,108.0 L486.30,109.0 L486.44,110.0 L486.59,111.0 L486.73,112.0 L486.87,113.0 L487.00,114.0 L487.80,114.0 L487.93,113.0 L488.07,112.0 L488.21,111.0 L488.36,110.0 L488.50,109.0 L488.65,108.0 L488.80,107.0 L488.96,106.0 L489.12,105.0 L489.29,104.0 L489.46,103.0 L489.62,102.0 L489.77,101.0 L489.91,100.0 L490.03,99.0 L490.15,98.0 L490.26,97.0 L490.38,96.0 L490.49,95.0 L490.62,94.0 L490.75,93.0 L490.90,92.0 L491.09,91.0 L491.31,90.0 L491.52,89.0 L491.70,88.0 L491.83,87.0 L491.93,86.0 L492.03,85.0 L492.15,84.0 L492.29,83.0 L492.45,82.0 L492.63,81.0 L492.82,80.0 L493.01,79.0 L493.21,78.0 L493.41,77.0 L493.60,76.0 L493.81,75.0 L494.05,74.0 L494.29,73.0 L494.51,72.0 L494.69,71.0 L494.79,70.0 L494.80,69.0 L494.77,68.0 L494.73,67.0 L494.67,66.0 L494.59,65.0 L494.50,64.0 L494.40,63.0 L494.30,62.0 L494.16,61.0 L493.97,60.0 L493.74,59.0 L493.50,58.0 L493.23,57.0 L492.93,56.0 L492.59,55.0 L492.24,54.0 L491.88,53.0 L491.48,52.0 L491.06,51.0 L490.63,50.0 L490.20,49.0 L489.73,48.0 L489.22,47.0 L488.75,46.0 L488.40,45.0 L488.14,44.0 L487.94,43.0 L487.80,42.0Z" fill="#fcd5bb" stroke="#1e1e1e" stroke-width="1.2" stroke-linejoin="round"/>
<path d="M487.20,42.0 L487.13,43.0 L487.03,44.0 L486.90,45.0 L486.72,46.0 L486.49,47.0 L486.24,48.0 L486.00,49.0 L485.78,50.0 L485.57,51.0 L485.36,52.0 L485.16,53.0 L484.98,54.0 L484.80,55.0 L484.64,56.0 L484.48,57.0 L484.35,58.0 L484.23,59.0 L484.12,60.0 L484.02,61.0 L483.95,62.0 L483.90,63.0 L483.85,64.0 L483.81,65.0 L483.77,66.0 L483.74,67.0 L483.71,68.0 L483.70,69.0 L483.71,70.0 L483.76,71.0 L483.84,72.0 L483.95,73.0 L484.08,74.0 L484.20,75.0 L484.30,76.0 L484.39,77.0 L484.49,78.0 L484.59,79.0 L484.69,80.0 L484.79,81.0 L484.88,82.0 L484.96,83.0 L485.03,84.0 L485.08,85.0 L485.13,86.0 L485.19,87.0 L485.25,88.0 L485.34,89.0 L485.45,90.0 L485.56,91.0 L485.65,92.0 L485.72,93.0 L485.79,94.0 L485.85,95.0 L485.91,96.0 L485.97,97.0 L486.02,98.0 L486.08,99.0 L486.15,100.0 L486.21,101.0 L486.29,102.0 L486.37,103.0 L486.45,104.0 L486.54,105.0 L486.62,106.0 L486.70,107.0 L486.78,108.0 L486.85,109.0 L486.92,110.0 L486.99,111.0 L487.06,112.0 L487.13,113.0 L487.20,114.0 L487.60,114.0 L487.67,113.0 L487.74,112.0 L487.81,111.0 L487.88,110.0 L487.95,109.0 L488.02,108.0 L488.10,107.0 L488.18,106.0 L488.26,105.0 L488.35,104.0 L488.43,103.0 L488.51,102.0 L488.59,101.0 L488.65,100.0 L488.72,99.0 L488.78,98.0 L488.83,97.0 L488.89,96.0 L488.95,95.0 L489.01,94.0 L489.08,93.0 L489.15,92.0 L489.24,91.0 L489.35,90.0 L489.46,89.0 L489.55,88.0 L489.61,87.0 L489.67,86.0 L489.72,85.0 L489.77,84.0 L489.84,83.0 L489.92,82.0 L490.01,81.0 L490.11,80.0 L490.21,79.0 L490.31,78.0 L490.41,77.0 L490.50,76.0 L490.60,75.0 L490.72,74.0 L490.85,73.0 L490.96,72.0 L491.04,71.0 L491.09,70.0 L491.10,69.0 L491.09,68.0 L491.06,67.0 L491.03,66.0 L490.99,65.0 L490.95,64.0 L490.90,63.0 L490.85,62.0 L490.78,61.0 L490.68,60.0 L490.57,59.0 L490.45,58.0 L490.32,57.0 L490.16,56.0 L490.00,55.0 L489.82,54.0 L489.64,53.0 L489.44,52.0 L489.23,51.0 L489.02,50.0 L488.80,49.0 L488.56,48.0 L488.31,47.0 L488.08,46.0 L487.90,45.0 L487.77,44.0 L487.67,43.0 L487.60,42.0Z" fill="#fac6a4" stroke="#5a4a40" stroke-width="0.4" stroke-opacity="0.8" stroke-linejoin="round"/>
<line x1="487.4" y1="42.0" x2="487.4" y2="114.0" stroke="#222" stroke-width="0.7"/>
<rect x="485.9" y="63" width="3" height="27.0" fill="#f7a654" stroke="#2a2a2a" stroke-width="0.7"/>
<line x1="485.9" y1="74" x2="488.9" y2="74" stroke="#222" stroke-width="1.2"/>
<line x1="509.1" y1="51.7" x2="509.1" y2="150.5" stroke="#1e1e1e" stroke-width="1.25"/>
<path d="M508.70,64.0 L508.57,65.0 L508.40,66.0 L508.20,67.0 L507.96,68.0 L507.67,69.0 L507.35,70.0 L507.02,71.0 L506.70,72.0 L506.37,73.0 L506.01,74.0 L505.66,75.0 L505.36,76.0 L505.13,77.0 L504.98,78.0 L504.85,79.0 L504.73,80.0 L504.62,81.0 L504.55,82.0 L504.51,83.0 L504.52,84.0 L504.72,85.0 L505.04,86.0 L505.37,87.0 L505.60,88.0 L505.74,89.0 L505.85,90.0 L505.90,91.0 L505.41,92.0 L504.35,93.0 L503.29,94.0 L502.67,95.0 L502.16,96.0 L501.71,97.0 L501.31,98.0 L500.95,99.0 L500.63,100.0 L500.35,101.0 L500.08,102.0 L499.85,103.0 L499.65,104.0 L499.50,105.0 L499.38,106.0 L499.30,107.0 L499.36,108.0 L499.56,109.0 L499.80,110.0 L500.08,111.0 L500.43,112.0 L500.84,113.0 L501.29,114.0 L501.84,115.0 L502.46,116.0 L503.12,117.0 L503.79,118.0 L504.42,119.0 L505.06,120.0 L505.70,121.0 L506.30,122.0 L506.88,123.0 L507.44,124.0 L507.90,125.0 L508.27,126.0 L508.58,127.0 L509.62,127.0 L509.93,126.0 L510.30,125.0 L510.76,124.0 L511.32,123.0 L511.90,122.0 L512.50,121.0 L513.14,120.0 L513.78,119.0 L514.41,118.0 L515.08,117.0 L515.74,116.0 L516.36,115.0 L516.91,114.0 L517.36,113.0 L517.77,112.0 L518.12,111.0 L518.40,110.0 L518.64,109.0 L518.84,108.0 L518.90,107.0 L518.82,106.0 L518.70,105.0 L518.55,104.0 L518.35,103.0 L518.12,102.0 L517.85,101.0 L517.57,100.0 L517.25,99.0 L516.89,98.0 L516.49,97.0 L516.04,96.0 L515.53,95.0 L514.91,94.0 L513.85,93.0 L512.79,92.0 L512.30,91.0 L512.35,90.0 L512.46,89.0 L512.60,88.0 L512.83,87.0 L513.16,86.0 L513.48,85.0 L513.68,84.0 L513.69,83.0 L513.65,82.0 L513.58,81.0 L513.47,80.0 L513.35,79.0 L513.22,78.0 L513.07,77.0 L512.84,76.0 L512.54,75.0 L512.19,74.0 L511.83,73.0 L511.50,72.0 L511.18,71.0 L510.85,70.0 L510.53,69.0 L510.24,68.0 L510.00,67.0 L509.80,66.0 L509.63,65.0 L509.50,64.0Z" fill="#fcd5bb" stroke="#1e1e1e" stroke-width="1.2" stroke-linejoin="round"/>
<path d="M508.90,64.0 L508.83,65.0 L508.75,66.0 L508.65,67.0 L508.53,68.0 L508.38,69.0 L508.22,70.0 L508.06,71.0 L507.90,72.0 L507.73,73.0 L507.56,74.0 L507.38,75.0 L507.23,76.0 L507.12,77.0 L507.04,78.0 L506.97,79.0 L506.91,80.0 L506.86,81.0 L506.82,82.0 L506.80,83.0 L506.81,84.0 L506.91,85.0 L507.07,86.0 L507.24,87.0 L507.35,88.0 L507.42,89.0 L507.48,90.0 L507.50,91.0 L507.26,92.0 L506.72,93.0 L506.19,94.0 L505.88,95.0 L505.63,96.0 L505.41,97.0 L505.20,98.0 L505.02,99.0 L504.87,100.0 L504.72,101.0 L504.59,102.0 L504.47,103.0 L504.38,104.0 L504.30,105.0 L504.24,106.0 L504.20,107.0 L504.23,108.0 L504.33,109.0 L504.45,110.0 L504.59,111.0 L504.76,112.0 L504.97,113.0 L505.19,114.0 L505.47,115.0 L505.78,116.0 L506.11,117.0 L506.44,118.0 L506.76,119.0 L507.08,120.0 L507.40,121.0 L507.70,122.0 L507.99,123.0 L508.27,124.0 L508.50,125.0 L508.69,126.0 L508.84,127.0 L509.36,127.0 L509.51,126.0 L509.70,125.0 L509.93,124.0 L510.21,123.0 L510.50,122.0 L510.80,121.0 L511.12,120.0 L511.44,119.0 L511.76,118.0 L512.09,117.0 L512.42,116.0 L512.73,115.0 L513.01,114.0 L513.23,113.0 L513.44,112.0 L513.61,111.0 L513.75,110.0 L513.87,109.0 L513.97,108.0 L514.00,107.0 L513.96,106.0 L513.90,105.0 L513.82,104.0 L513.73,103.0 L513.61,102.0 L513.48,101.0 L513.33,100.0 L513.18,99.0 L513.00,98.0 L512.79,97.0 L512.57,96.0 L512.32,95.0 L512.01,94.0 L511.48,93.0 L510.94,92.0 L510.70,91.0 L510.72,90.0 L510.78,89.0 L510.85,88.0 L510.96,87.0 L511.13,86.0 L511.29,85.0 L511.39,84.0 L511.40,83.0 L511.38,82.0 L511.34,81.0 L511.29,80.0 L511.23,79.0 L511.16,78.0 L511.08,77.0 L510.97,76.0 L510.82,75.0 L510.64,74.0 L510.47,73.0 L510.30,72.0 L510.14,71.0 L509.98,70.0 L509.82,69.0 L509.67,68.0 L509.55,67.0 L509.45,66.0 L509.37,65.0 L509.30,64.0Z" fill="#fac6a4" stroke="#5a4a40" stroke-width="0.4" stroke-opacity="0.8" stroke-linejoin="round"/>
<line x1="509.1" y1="64.0" x2="509.1" y2="127.0" stroke="#222" stroke-width="0.7"/>
<rect x="507.6" y="92.8" width="3" height="18.5" fill="#f7a654" stroke="#2a2a2a" stroke-width="0.7"/>
<line x1="507.6" y1="103.8" x2="510.6" y2="103.8" stroke="#222" stroke-width="1.2"/>
<line x1="530.9" y1="16.6" x2="530.9" y2="217" stroke="#1e1e1e" stroke-width="1.25"/>
<path d="M530.50,38.0 L530.38,39.0 L530.24,40.0 L530.08,41.0 L529.90,42.0 L529.67,43.0 L529.39,44.0 L529.08,45.0 L528.78,46.0 L528.51,47.0 L528.30,48.0 L528.13,49.0 L527.96,50.0 L527.80,51.0 L527.66,52.0 L527.54,53.0 L527.45,54.0 L527.41,55.0 L527.40,56.0 L527.41,57.0 L527.42,58.0 L527.43,59.0 L527.45,60.0 L527.48,61.0 L527.50,62.0 L527.53,63.0 L527.58,64.0 L527.64,65.0 L527.71,66.0 L527.78,67.0 L527.86,68.0 L527.93,69.0 L528.00,70.0 L528.07,71.0 L528.15,72.0 L528.24,73.0 L528.31,74.0 L528.37,75.0 L528.40,76.0 L528.41,77.0 L528.43,78.0 L528.44,79.0 L528.45,80.0 L528.46,81.0 L528.47,82.0 L528.48,83.0 L528.48,84.0 L528.49,85.0 L528.49,86.0 L528.50,87.0 L528.50,88.0 L528.50,89.0 L528.50,90.0 L528.50,91.0 L528.50,92.0 L528.50,93.0 L528.50,94.0 L528.50,95.0 L528.50,96.0 L528.50,97.0 L528.50,98.0 L528.50,99.0 L528.50,100.0 L528.50,101.0 L528.50,102.0 L528.50,103.0 L528.50,104.0 L528.50,105.0 L528.50,106.0 L528.50,107.0 L528.50,108.0 L528.50,109.0 L528.50,110.0 L528.50,111.0 L528.49,112.0 L528.48,113.0 L528.46,114.0 L528.44,115.0 L528.41,116.0 L528.38,117.0 L528.35,118.0 L528.32,119.0 L528.29,120.0 L528.25,121.0 L528.21,122.0 L528.18,123.0 L528.14,124.0 L528.10,125.0 L528.05,126.0 L527.98,127.0 L527.91,128.0 L527.85,129.0 L527.81,130.0 L527.80,131.0 L527.81,132.0 L527.83,133.0 L527.85,134.0 L527.88,135.0 L527.92,136.0 L527.97,137.0 L528.02,138.0 L528.08,139.0 L528.14,140.0 L528.20,141.0 L528.29,142.0 L528.42,143.0 L528.57,144.0 L528.75,145.0 L528.94,146.0 L529.12,147.0 L529.30,148.0 L529.47,149.0 L529.65,150.0 L529.82,151.0 L530.01,152.0 L530.19,153.0 L530.38,154.0 L531.42,154.0 L531.61,153.0 L531.79,152.0 L531.98,151.0 L532.15,150.0 L532.33,149.0 L532.50,148.0 L532.68,147.0 L532.86,146.0 L533.05,145.0 L533.23,144.0 L533.38,143.0 L533.51,142.0 L533.60,141.0 L533.66,140.0 L533.72,139.0 L533.78,138.0 L533.83,137.0 L533.88,136.0 L533.92,135.0 L533.95,134.0 L533.97,133.0 L533.99,132.0 L534.00,131.0 L533.99,130.0 L533.95,129.0 L533.89,128.0 L533.82,127.0 L533.75,126.0 L533.70,125.0 L533.66,124.0 L533.62,123.0 L533.59,122.0 L533.55,121.0 L533.51,120.0 L533.48,119.0 L533.45,118.0 L533.42,117.0 L533.39,116.0 L533.36,115.0 L533.34,114.0 L533.32,113.0 L533.31,112.0 L533.30,111.0 L533.30,110.0 L533.30,109.0 L533.30,108.0 L533.30,107.0 L533.30,106.0 L533.30,105.0 L533.30,104.0 L533.30,103.0 L533.30,102.0 L533.30,101.0 L533.30,100.0 L533.30,99.0 L533.30,98.0 L533.30,97.0 L533.30,96.0 L533.30,95.0 L533.30,94.0 L533.30,93.0 L533.30,92.0 L533.30,91.0 L533.30,90.0 L533.30,89.0 L533.30,88.0 L533.30,87.0 L533.31,86.0 L533.31,85.0 L533.32,84.0 L533.32,83.0 L533.33,82.0 L533.34,81.0 L533.35,80.0 L533.36,79.0 L533.37,78.0 L533.39,77.0 L533.40,76.0 L533.43,75.0 L533.49,74.0 L533.56,73.0 L533.65,72.0 L533.73,71.0 L533.80,70.0 L533.87,69.0 L533.94,68.0 L534.02,67.0 L534.09,66.0 L534.16,65.0 L534.22,64.0 L534.27,63.0 L534.30,62.0 L534.32,61.0 L534.35,60.0 L534.37,59.0 L534.38,58.0 L534.39,57.0 L534.40,56.0 L534.39,55.0 L534.35,54.0 L534.26,53.0 L534.14,52.0 L534.00,51.0 L533.84,50.0 L533.67,49.0 L533.50,48.0 L533.29,47.0 L533.02,46.0 L532.72,45.0 L532.41,44.0 L532.13,43.0 L531.90,42.0 L531.72,41.0 L531.56,40.0 L531.42,39.0 L531.30,38.0Z" fill="#fcd5bb" stroke="#1e1e1e" stroke-width="1.2" stroke-linejoin="round"/>
<path d="M530.72,38.0 L530.67,39.0 L530.60,40.0 L530.53,41.0 L530.45,42.0 L530.35,43.0 L530.22,44.0 L530.08,45.0 L529.95,46.0 L529.82,47.0 L529.73,48.0 L529.65,49.0 L529.58,50.0 L529.51,51.0 L529.44,52.0 L529.39,53.0 L529.35,54.0 L529.33,55.0 L529.33,56.0 L529.33,57.0 L529.33,58.0 L529.34,59.0 L529.35,60.0 L529.36,61.0 L529.37,62.0 L529.38,63.0 L529.41,64.0 L529.43,65.0 L529.46,66.0 L529.50,67.0 L529.53,68.0 L529.56,69.0 L529.60,70.0 L529.63,71.0 L529.66,72.0 L529.70,73.0 L529.74,74.0 L529.76,75.0 L529.77,76.0 L529.78,77.0 L529.79,78.0 L529.79,79.0 L529.80,80.0 L529.80,81.0 L529.81,82.0 L529.81,83.0 L529.81,84.0 L529.81,85.0 L529.82,86.0 L529.82,87.0 L529.82,88.0 L529.82,89.0 L529.82,90.0 L529.82,91.0 L529.82,92.0 L529.82,93.0 L529.82,94.0 L529.82,95.0 L529.82,96.0 L529.82,97.0 L529.82,98.0 L529.82,99.0 L529.82,100.0 L529.82,101.0 L529.82,102.0 L529.82,103.0 L529.82,104.0 L529.82,105.0 L529.82,106.0 L529.82,107.0 L529.82,108.0 L529.82,109.0 L529.82,110.0 L529.82,111.0 L529.82,112.0 L529.81,113.0 L529.80,114.0 L529.79,115.0 L529.78,116.0 L529.77,117.0 L529.75,118.0 L529.74,119.0 L529.72,120.0 L529.71,121.0 L529.69,122.0 L529.67,123.0 L529.66,124.0 L529.64,125.0 L529.62,126.0 L529.59,127.0 L529.56,128.0 L529.53,129.0 L529.51,130.0 L529.51,131.0 L529.51,132.0 L529.52,133.0 L529.53,134.0 L529.54,135.0 L529.56,136.0 L529.58,137.0 L529.60,138.0 L529.63,139.0 L529.66,140.0 L529.68,141.0 L529.72,142.0 L529.78,143.0 L529.85,144.0 L529.93,145.0 L530.02,146.0 L530.10,147.0 L530.18,148.0 L530.26,149.0 L530.34,150.0 L530.42,151.0 L530.50,152.0 L530.58,153.0 L530.67,154.0 L531.13,154.0 L531.22,153.0 L531.30,152.0 L531.38,151.0 L531.46,150.0 L531.54,149.0 L531.62,148.0 L531.70,147.0 L531.78,146.0 L531.87,145.0 L531.95,144.0 L532.02,143.0 L532.08,142.0 L532.12,141.0 L532.14,140.0 L532.17,139.0 L532.20,138.0 L532.22,137.0 L532.24,136.0 L532.26,135.0 L532.27,134.0 L532.28,133.0 L532.29,132.0 L532.29,131.0 L532.29,130.0 L532.27,129.0 L532.24,128.0 L532.21,127.0 L532.18,126.0 L532.16,125.0 L532.14,124.0 L532.13,123.0 L532.11,122.0 L532.09,121.0 L532.08,120.0 L532.06,119.0 L532.05,118.0 L532.03,117.0 L532.02,116.0 L532.01,115.0 L532.00,114.0 L531.99,113.0 L531.98,112.0 L531.98,111.0 L531.98,110.0 L531.98,109.0 L531.98,108.0 L531.98,107.0 L531.98,106.0 L531.98,105.0 L531.98,104.0 L531.98,103.0 L531.98,102.0 L531.98,101.0 L531.98,100.0 L531.98,99.0 L531.98,98.0 L531.98,97.0 L531.98,96.0 L531.98,95.0 L531.98,94.0 L531.98,93.0 L531.98,92.0 L531.98,91.0 L531.98,90.0 L531.98,89.0 L531.98,88.0 L531.98,87.0 L531.98,86.0 L531.99,85.0 L531.99,84.0 L531.99,83.0 L531.99,82.0 L532.00,81.0 L532.00,80.0 L532.01,79.0 L532.01,78.0 L532.02,77.0 L532.02,76.0 L532.04,75.0 L532.06,74.0 L532.10,73.0 L532.14,72.0 L532.17,71.0 L532.20,70.0 L532.24,69.0 L532.27,68.0 L532.30,67.0 L532.34,66.0 L532.37,65.0 L532.39,64.0 L532.42,63.0 L532.43,62.0 L532.44,61.0 L532.45,60.0 L532.46,59.0 L532.47,58.0 L532.47,57.0 L532.47,56.0 L532.47,55.0 L532.45,54.0 L532.41,53.0 L532.36,52.0 L532.29,51.0 L532.22,50.0 L532.15,49.0 L532.07,48.0 L531.98,47.0 L531.85,46.0 L531.72,45.0 L531.58,44.0 L531.45,43.0 L531.35,42.0 L531.27,41.0 L531.20,40.0 L531.13,39.0 L531.08,38.0Z" fill="#fac6a4" stroke="none"/>
<line x1="530.9" y1="38.0" x2="530.9" y2="154.0" stroke="#222" stroke-width="0.6"/>
<rect x="529.4" y="69.6" width="3" height="59.4" fill="#f7a654" stroke="#2a2a2a" stroke-width="0.7"/>
<line x1="529.4" y1="98.6" x2="532.4" y2="98.6" stroke="#222" stroke-width="1.2"/>
</g>
<rect x="388" y="6.6" width="155.60000000000002" height="218.4" fill="none" stroke="#222" stroke-width="1.4"/>
<line x1="384.6" y1="17" x2="388" y2="17" stroke="#222" stroke-width="1"/>
<text x="381.8" y="20.1" font-size="8.9" fill="#4d4d4d" text-anchor="end">1000.0</text>
<line x1="384.6" y1="61.7" x2="388" y2="61.7" stroke="#222" stroke-width="1"/>
<text x="381.8" y="64.8" font-size="8.9" fill="#4d4d4d" text-anchor="end">100.0</text>
<line x1="384.6" y1="106.5" x2="388" y2="106.5" stroke="#222" stroke-width="1"/>
<text x="381.8" y="109.6" font-size="8.9" fill="#4d4d4d" text-anchor="end">10.0</text>
<line x1="384.6" y1="151.2" x2="388" y2="151.2" stroke="#222" stroke-width="1"/>
<text x="381.8" y="154.29999999999998" font-size="8.9" fill="#4d4d4d" text-anchor="end">1.0</text>
<line x1="384.6" y1="196.2" x2="388" y2="196.2" stroke="#222" stroke-width="1"/>
<text x="381.8" y="199.29999999999998" font-size="8.9" fill="#4d4d4d" text-anchor="end">0.1</text>
<line x1="400.8" y1="225" x2="400.8" y2="229.6" stroke="#222" stroke-width="1"/>
<text transform="translate(398.8,248.3) rotate(-32)" font-size="9.4" fill="#4d4d4d" text-anchor="middle" dy="3.3">HeTong</text>
<line x1="422.4" y1="225" x2="422.4" y2="229.6" stroke="#222" stroke-width="1"/>
<text transform="translate(421.4,247.5) rotate(-32)" font-size="9.4" fill="#4d4d4d" text-anchor="middle" dy="3.3">TL1</text>
<line x1="444.3" y1="225" x2="444.3" y2="229.6" stroke="#222" stroke-width="1"/>
<text transform="translate(443.3,247.5) rotate(-32)" font-size="9.4" fill="#4d4d4d" text-anchor="middle" dy="3.3">TL2</text>
<line x1="465.6" y1="225" x2="465.6" y2="229.6" stroke="#222" stroke-width="1"/>
<text transform="translate(464.6,247.5) rotate(-32)" font-size="9.4" fill="#4d4d4d" text-anchor="middle" dy="3.3">HG1</text>
<line x1="487.4" y1="225" x2="487.4" y2="229.6" stroke="#222" stroke-width="1"/>
<text transform="translate(486.4,247.5) rotate(-32)" font-size="9.4" fill="#4d4d4d" text-anchor="middle" dy="3.3">HG2</text>
<line x1="509.1" y1="225" x2="509.1" y2="229.6" stroke="#222" stroke-width="1"/>
<text transform="translate(508.1,247.5) rotate(-32)" font-size="9.4" fill="#4d4d4d" text-anchor="middle" dy="3.3">SD</text>
<line x1="530.9" y1="225" x2="530.9" y2="229.6" stroke="#222" stroke-width="1"/>
<text transform="translate(529.9,247.5) rotate(-32)" font-size="9.4" fill="#4d4d4d" text-anchor="middle" dy="3.3">FP</text>
<text transform="translate(348,176.6) rotate(-90)" font-size="8.9" fill="#000" textLength="122" lengthAdjust="spacing">SOC loss intensity/(t /km<tspan font-size="5.8" dy="-3.2">2</tspan><tspan dy="3.2">/yr)</tspan></text>
</svg></body></html>
